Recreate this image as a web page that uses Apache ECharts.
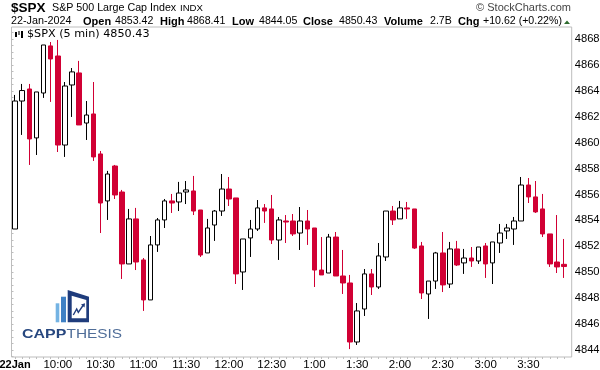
<!DOCTYPE html>
<html>
<head>
<meta charset="utf-8">
<style>
  html, body { margin: 0; padding: 0; background: #fff; }
  #chart { width: 600px; height: 370px; }
</style>
<script src="https://cdn.jsdelivr.net/npm/echarts@6/dist/echarts.min.js"></script>
</head>
<body>
<div id="chart"></div>
<script>
const times = [
  "9:30","9:35","9:40","9:45","9:50","9:55","10:00","10:05","10:10","10:15","10:20","10:25",
  "10:30","10:35","10:40","10:45","10:50","10:55","11:00","11:05","11:10","11:15","11:20","11:25",
  "11:30","11:35","11:40","11:45","11:50","11:55","12:00","12:05","12:10","12:15","12:20","12:25",
  "12:30","12:35","12:40","12:45","12:50","12:55","1:00","1:05","1:10","1:15","1:20","1:25",
  "1:30","1:35","1:40","1:45","1:50","1:55","2:00","2:05","2:10","2:15","2:20","2:25",
  "2:30","2:35","2:40","2:45","2:50","2:55","3:00","3:05","3:10","3:15","3:20","3:25",
  "3:30","3:35","3:40","3:45","3:50","3:55"
];
const opens = [
  4853.33,4863.22,4864.15,4860.37,4863.84,4867.48,4866.70,4859.82,4864.46,4865.39,4861.52,4862.22,
  4859.13,4855.50,4858.20,4856.19,4850.63,4854.11,4850.94,4847.85,4852.10,4854.03,4855.50,4855.42,
  4856.19,4856.27,4854.80,4851.48,4853.64,4854.72,4856.42,4855.73,4850.01,4852.64,4853.33,4854.96,
  4854.88,4852.48,4853.95,4853.95,4853.02,4853.95,4853.41,4850.16,4849.93,4852.71,4849.70,4849.16,
  4844.60,4847.15,4849.86,4848.85,4851.17,4854.72,4854.11,4854.96,4854.88,4852.02,4848.31,4849.31,
  4851.48,4849.08,4851.79,4850.71,4851.09,4850.86,4852.02,4850.71,4852.25,4853.18,4853.33,4853.95,
  4856.73,4855.81,4854.88,4852.95,4850.78,4850.60
];
const closes = [
  4863.22,4864.03,4860.29,4863.92,4867.55,4866.47,4859.82,4864.38,4865.47,4861.37,4862.14,4858.90,
  4855.34,4857.58,4855.96,4850.63,4854.11,4850.78,4847.85,4852.10,4854.03,4855.50,4855.34,4856.11,
  4856.35,4854.72,4851.32,4853.41,4854.72,4856.42,4855.65,4849.86,4852.56,4853.33,4854.96,4854.72,
  4852.48,4854.03,4853.87,4852.95,4853.95,4853.33,4850.16,4849.78,4852.71,4849.70,4849.16,4844.60,
  4847.00,4849.86,4848.85,4851.25,4854.72,4854.03,4854.96,4854.88,4851.86,4848.39,4849.31,4851.48,
  4849.01,4851.79,4850.55,4851.09,4850.86,4851.94,4850.63,4852.33,4853.02,4853.41,4853.95,4856.73,
  4855.81,4854.65,4852.95,4850.63,4850.40,4850.43
];
const lows = [
  4853.33,4860.60,4858.28,4859.05,4863.46,4863.15,4859.28,4858.90,4861.99,4861.37,4860.21,4858.59,
  4853.02,4854.03,4855.65,4849.47,4850.63,4850.16,4847.00,4847.85,4851.56,4853.41,4854.57,4854.72,
  4855.26,4854.41,4851.17,4851.48,4852.41,4854.34,4855.11,4849.08,4848.62,4851.17,4853.18,4853.80,
  4852.17,4850.94,4852.25,4852.79,4851.71,4852.10,4848.85,4849.78,4849.93,4849.70,4848.31,4844.05,
  4844.37,4846.61,4848.23,4848.70,4850.86,4853.64,4854.11,4854.11,4851.79,4847.92,4846.38,4848.70,
  4848.46,4848.77,4850.47,4849.86,4850.40,4850.63,4849.55,4849.08,4851.48,4852.56,4852.10,4853.95,
  4855.34,4854.57,4852.71,4850.40,4849.93,4849.55
];
const highs = [
  4863.69,4864.54,4864.54,4863.92,4867.55,4867.78,4867.94,4864.69,4865.77,4866.32,4863.22,4864.69,
  4859.36,4857.82,4858.28,4856.35,4854.88,4854.96,4851.09,4852.79,4854.18,4855.65,4856.04,4856.97,
  4857.04,4857.43,4854.80,4854.11,4854.80,4857.58,4857.35,4855.73,4852.56,4854.03,4855.57,4855.26,
  4855.96,4854.26,4854.41,4854.49,4855.03,4854.80,4853.41,4852.71,4852.95,4853.10,4851.71,4849.78,
  4847.61,4850.24,4850.24,4852.25,4854.72,4855.11,4855.50,4855.42,4854.88,4852.33,4849.31,4851.56,
  4853.10,4852.33,4852.41,4851.79,4851.94,4851.94,4852.25,4852.33,4853.72,4853.72,4854.26,4857.35,
  4857.27,4857.04,4856.04,4852.95,4854.41,4852.56
];
const priceLabels = [4844, 4846, 4848, 4850, 4852, 4854, 4856, 4858, 4860, 4862, 4864, 4866, 4868];
const priceTicks = [];
for (let p = 4843.5; p <= 4868.5; p += 0.5) {
  priceTicks.push(p);
}

const yMin = 4843.44;
const yMax = 4868.94;
const RED = "#d10034";
const FRAME = "#bdbdbd";
const NAVY = "#1f3c7c";

function headerText(x, y, text, size, bold, color, align) {
  return {
    type: "text",
    silent: true,
    style: {
      x: x,
      y: y,
      text: text,
      fill: color || "#000",
      align: align || "left",
      verticalAlign: "middle",
      font: (bold ? "bold " : "") + size + "px 'Liberation Sans', Arial, sans-serif",
    },
  };
}

const header = [
  headerText(11, 8, "$SPX", 13.5, true),
  headerText(52, 8.5, "S&P 500 Large Cap Index", 10.7),
  headerText(180, 8.5, "INDX", 9.6),
  headerText(571, 8, "© StockCharts.com", 11, false, "#444", "right"),
  headerText(11, 21.5, "22-Jan-2024", 10.8),
  headerText(83, 21.5, "Open", 11, true),
  headerText(115, 21.5, "4853.42", 10.6),
  headerText(160, 21.5, "High", 11, true),
  headerText(187, 21.5, "4868.41", 10.6),
  headerText(232, 21.5, "Low", 11, true),
  headerText(259, 21.5, "4844.05", 10.6),
  headerText(303, 21.5, "Close", 11, true),
  headerText(339, 21.5, "4850.43", 10.6),
  headerText(384, 21.5, "Volume", 11, true),
  headerText(430, 21.5, "2.7B", 10.6),
  headerText(458, 21.5, "Chg", 11, true),
  headerText(483, 21.5, "+10.62 (+0.22%)", 10.6),
  {
    type: "polygon",
    silent: true,
    shape: { points: [[564, 24], [570, 24], [567, 20.5]] },
    style: { fill: "#2e6b2e" },
  },
  {
    type: "text",
    silent: true,
    style: {
      x: 27,
      y: 34.5,
      text: "$SPX (5 min) 4850.43",
      fill: "#000",
      verticalAlign: "middle",
      font: "11.2px 'DejaVu Sans', sans-serif",
    },
  },
];

// little candle icon in front of the legend
const legendIcon = [
  { type: "rect", silent: true, shape: { x: 15, y: 32, width: 2, height: 5 }, style: { fill: "#000" } },
  { type: "rect", silent: true, shape: { x: 18, y: 31, width: 2, height: 4 }, style: { fill: "#777" } },
  { type: "rect", silent: true, shape: { x: 21, y: 31, width: 2, height: 7 }, style: { fill: "#000" } },
];

const logo = [
  { type: "rect", silent: true, shape: { x: 55.7, y: 303.3, width: 3.6, height: 19 }, style: { fill: "#74b3e3" } },
  { type: "rect", silent: true, shape: { x: 61, y: 296.7, width: 5, height: 25.6 }, style: { fill: "#3f80c4" } },
  {
    type: "polygon",
    silent: true,
    shape: { points: [[67.7, 290], [89, 296.7], [89, 322.3], [67.7, 322.3]] },
    style: { fill: NAVY },
  },
  {
    type: "polygon",
    silent: true,
    shape: { points: [[71.7, 295.7], [86.3, 300], [86.3, 318.3], [71.7, 318.3]] },
    style: { fill: "#fff" },
  },
  {
    type: "polyline",
    silent: true,
    shape: { points: [[73.3, 315], [76.7, 309], [78.3, 312.3], [83, 305.5]] },
    style: { stroke: NAVY, lineWidth: 1.4, fill: null },
  },
  {
    type: "polygon",
    silent: true,
    shape: { points: [[81, 304.5], [85, 303.3], [84.5, 307.5]] },
    style: { fill: NAVY },
  },
  {
    type: "text",
    silent: true,
    x: 22,
    y: 333.8,
    scaleX: 1.18,
    style: {
      text: "CAPP",
      fill: "#27477f",
      verticalAlign: "middle",
      font: "bold 13.5px 'Liberation Sans', sans-serif",
    },
  },
  {
    type: "text",
    silent: true,
    x: 66.5,
    y: 333.8,
    scaleX: 1.14,
    style: {
      text: "THESIS",
      fill: "#4f6d98",
      verticalAlign: "middle",
      font: "13.5px 'Liberation Sans', sans-serif",
    },
  },
];

const option = {
  animation: false,
  backgroundColor: "#fff",
  textStyle: { fontFamily: "'Liberation Sans', Arial, sans-serif" },
  grid: [
    { left: 11.5, top: 27, width: 560.2, height: 330, show: true, borderColor: FRAME, borderWidth: 1, backgroundColor: "#fff", outerBoundsMode: "none" },
    { left: 11.44, top: 27, width: 556.14, height: 330, outerBoundsMode: "none" },
  ],
  xAxis: [
    { type: "value", gridIndex: 0, show: false },
    {
      type: "category",
      gridIndex: 1,
      data: times,
      boundaryGap: true,
      axisLine: { show: false },
      axisTick: {
        show: true,
        interval: 0,
        alignWithLabel: true,
        length: 2,
        lineStyle: { color: FRAME },
      },
      axisLabel: {
        show: true,
        margin: 2,
        fontSize: 11.5,
        color: "#000",
        hideOverlap: false,
        interval: (index) => index % 6 == 0,
        formatter: (value, index) => (index == 0 ? "{b|22Jan}" : value),
        rich: {
          b: { fontWeight: "bold", fontSize: 11, color: "#000" },
        },
      },
      splitLine: { show: false },
    },
  ],
  yAxis: [
    {
      type: "value",
      gridIndex: 0,
      position: "right",
      min: yMin,
      max: yMax,
      axisLine: { show: false },
      axisTick: {
        show: true,
        length: 2,
        lineStyle: { color: FRAME },
        customValues: priceTicks,
      },
      axisLabel: {
        show: true,
        margin: 3,
        fontSize: 11.2,
        color: "#000",
        customValues: priceLabels,
        formatter: (value) => String(value),
      },
      splitLine: { show: false },
    },
    {
      type: "value",
      gridIndex: 1,
      show: false,
      min: yMin,
      max: yMax,
      splitLine: { show: false },
    },
  ],
  series: [
    {
      type: "candlestick",
      xAxisIndex: 1,
      yAxisIndex: 1,
      barWidth: 5,
      silent: true,
      itemStyle: {
        color: "#fff",
        color0: RED,
        borderColor: "#000",
        borderColor0: RED,
        borderWidth: 1,
      },
      data: times.map((t, i) => [opens[i], closes[i], lows[i], highs[i]]),
    },
  ],
  graphic: { elements: header.concat(legendIcon, logo) },
};

const chart = echarts.init(document.getElementById("chart"), null, { renderer: "canvas" });
chart.setOption(option);
</script>
</body>
</html>
